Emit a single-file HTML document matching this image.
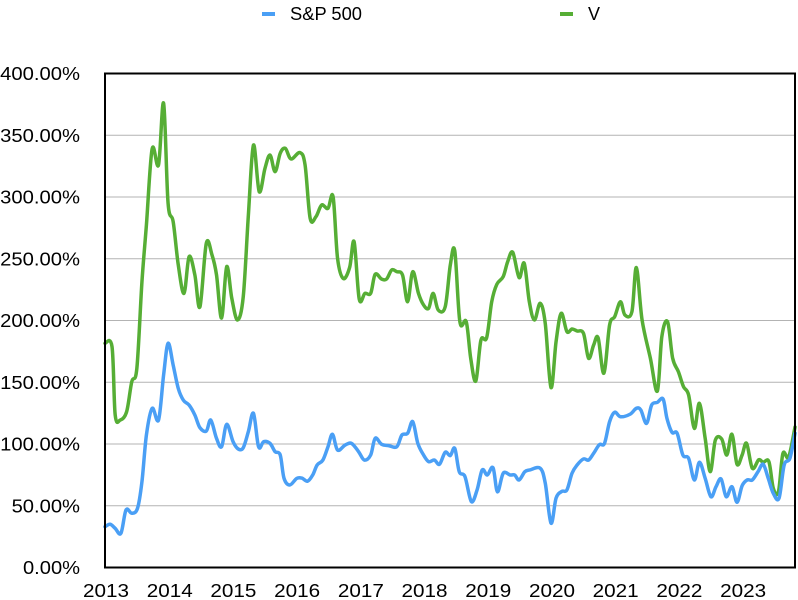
<!DOCTYPE html>
<html><head><meta charset="utf-8"><style>
html,body{margin:0;padding:0;background:#fff;}
svg{display:block;font-family:"Liberation Sans",Arial,sans-serif;}
</style></head><body>
<svg id="chart" width="798" height="600" viewBox="0 0 798 600" xmlns="http://www.w3.org/2000/svg">
<g id="legend">
 <g>
  <line x1="262" y1="14" x2="275" y2="14" stroke="#4a9ff5" stroke-width="4"/>
  <text x="290" y="20" font-size="18" fill="#000" textLength="72" lengthAdjust="spacingAndGlyphs">S&amp;P 500</text>
 </g>
 <g>
  <line x1="560" y1="14" x2="573" y2="14" stroke="#56ae35" stroke-width="4"/>
  <text x="588" y="20" font-size="18" fill="#000">V</text>
 </g>
</g>
<g id="grid"></g>
<g id="yaxis"></g>
<g id="xaxis"></g>
<g id="series"></g>
<rect x="105" y="73.5" width="690" height="494" fill="none" stroke="#000" stroke-width="2"/>
</svg>
<script>
const yTicks = [0,50,100,150,200,250,300,350,400];
const yTickLabels = ["0.00%","50.00%","100.00%","150.00%","200.00%","250.00%","300.00%","350.00%","400.00%"];
const xTicks = [2013,2014,2015,2016,2017,2018,2019,2020,2021,2022,2023];
const xTickLabels = ["2013","2014","2015","2016","2017","2018","2019","2020","2021","2022","2023"];

const vDates = [2013.00,2013.11,2013.16,2013.24,2013.34,2013.42,2013.50,2013.58,2013.65,2013.74,2013.84,2013.92,2013.99,2014.07,2014.15,2014.24,2014.32,2014.41,2014.49,2014.59,2014.68,2014.75,2014.83,2014.91,2014.99,2015.08,2015.17,2015.25,2015.33,2015.42,2015.51,2015.59,2015.67,2015.75,2015.83,2015.92,2016.06,2016.14,2016.22,2016.31,2016.40,2016.50,2016.58,2016.65,2016.74,2016.84,2016.91,2016.99,2017.08,2017.17,2017.24,2017.34,2017.42,2017.50,2017.58,2017.67,2017.75,2017.83,2017.92,2018.00,2018.08,2018.15,2018.23,2018.34,2018.42,2018.49,2018.57,2018.67,2018.74,2018.82,2018.90,2018.99,2019.07,2019.15,2019.25,2019.32,2019.40,2019.50,2019.58,2019.66,2019.74,2019.83,2019.91,2020.00,2020.08,2020.16,2020.25,2020.33,2020.41,2020.51,2020.59,2020.67,2020.74,2020.83,2020.92,2021.00,2021.09,2021.16,2021.27,2021.34,2021.43,2021.56,2021.67,2021.74,2021.83,2021.91,2022.00,2022.08,2022.16,2022.25,2022.33,2022.42,2022.50,2022.58,2022.68,2022.76,2022.84,2022.92,2023.00,2023.07,2023.16,2023.26,2023.33,2023.42,2023.49,2023.57,2023.64,2023.73,2023.83];
const vValues = [181.5,178.8,123.5,119.4,126.2,150.4,161.3,231.4,277.3,339,326,375.9,295,280,245,222,251.7,237,211,262.5,253,237,202,243.6,218,200.4,219.3,285,342,304.3,323,334,320.5,335.4,339.4,330.8,336,326,282.8,284,293.5,290.8,300.2,250.4,234,243,263.8,217.4,222,222,237.4,233.6,233.6,240.9,239.5,236.8,215.2,239.5,222,212.6,209.9,222,208.5,211.2,245,256.3,199,199,169.4,151,184,186,215.2,229.3,235.5,247.6,255.2,234.7,246.3,215.2,200.4,213.9,197.7,145.7,183,205.8,191,193.1,191.5,189.6,169.4,180.2,186,157.3,196.4,203.1,215.2,204.5,207.1,242.8,200.4,169.4,142.9,186.9,199,169.4,158.5,146.4,139.7,112.7,132.9,104.6,77.6,103.2,104,91.1,107.9,83.6,91.1,100.6,80.4,87.2,85.2,85.7,64,61.3,92.2,89.4,113.7];

const spDates = [2013.00,2013.08,2013.16,2013.25,2013.33,2013.42,2013.51,2013.58,2013.65,2013.74,2013.84,2013.92,2013.99,2014.07,2014.15,2014.23,2014.32,2014.41,2014.49,2014.59,2014.66,2014.75,2014.83,2014.91,2015.01,2015.09,2015.17,2015.25,2015.33,2015.41,2015.49,2015.59,2015.67,2015.75,2015.81,2015.90,2016.01,2016.09,2016.18,2016.26,2016.33,2016.42,2016.50,2016.57,2016.65,2016.77,2016.87,2016.98,2017.07,2017.17,2017.24,2017.34,2017.45,2017.58,2017.66,2017.75,2017.83,2017.91,2018.00,2018.08,2018.17,2018.25,2018.34,2018.42,2018.49,2018.56,2018.65,2018.75,2018.84,2018.92,2019.00,2019.09,2019.16,2019.25,2019.36,2019.43,2019.50,2019.59,2019.67,2019.83,2019.91,2020.00,2020.08,2020.17,2020.25,2020.33,2020.41,2020.51,2020.59,2020.67,2020.76,2020.84,2020.92,2021.00,2021.09,2021.24,2021.34,2021.41,2021.50,2021.58,2021.67,2021.76,2021.82,2021.90,2021.98,2022.07,2022.16,2022.25,2022.33,2022.42,2022.51,2022.59,2022.67,2022.75,2022.84,2022.92,2023.00,2023.08,2023.16,2023.25,2023.33,2023.41,2023.49,2023.58,2023.66,2023.75,2023.83];
const spValues = [33,35,31.7,27.7,46.6,43.9,47.9,69.5,107.3,128.9,119.4,155.9,181.5,163.9,145,135.5,131.5,123.5,113.2,110.5,119.4,104.6,97.8,115.9,101.9,96,97,110,124.9,97.8,101.9,100.5,93.8,91.1,72.2,66.8,72.2,72.4,69.9,74.9,83,87,97.8,107.9,95.1,99.2,100.5,93.8,87,91.1,104.6,99.8,98.7,97.8,107.3,108.7,118.1,100.5,91.1,85.7,87,83.6,93.3,90.6,96.5,77.6,73.6,53.4,62.8,79,74.9,80.8,61.3,76.3,74.9,74.9,70.9,77.6,79,80.4,68.3,35.9,56.2,61.6,62.8,76.3,83,87.9,87,92.5,99.5,100.5,118.1,125.7,122.1,124.1,128.9,127.5,116.7,131.5,133.7,136.4,120.8,109.4,108.7,91.1,88.4,70.9,85.2,72.2,57.3,65.4,71.7,57.3,65.4,52.8,66.2,70.9,70.9,77.6,83.6,72.2,60,56.2,83,88.4,108.7];

const X0=105, X1=795, D0=2013, D1=2023.83;
const Y0=567.5, Y1=73.5, V0=0, V1=400;
function xScale(d){return X0+(d-D0)/(D1-D0)*(X1-X0);}
function yScale(v){return Y0-(v-V0)/(V1-V0)*(Y0-Y1);}
const NS="http://www.w3.org/2000/svg";
function mk(tag,attrs,parent){const e=document.createElementNS(NS,tag);for(const k in attrs)e.setAttribute(k,attrs[k]);parent.appendChild(e);return e;}

const grid=document.getElementById('grid'), yaxis=document.getElementById('yaxis'), xaxis=document.getElementById('xaxis'), series=document.getElementById('series');
yTicks.forEach((t,i)=>{
  const y=yScale(t);
  if(t>0&&t<400){
    const g=mk('line',{x1:X0,x2:X1,y1:y,y2:y,stroke:'#b3b3b3','stroke-width':1},grid);
    
    
  }
  const lab=yTickLabels[i];
  const w=lab.length*11.4;
  const tx=mk('text',{x:80-w,y:y+6.5,'font-size':18,fill:'#000',textLength:w,lengthAdjust:'spacingAndGlyphs'},yaxis);
  tx.textContent=lab;
  
  
});
xTicks.forEach((t,i)=>{
  const cx=xScale(t)+1;
  const tx=mk('text',{x:cx-23,y:597,'font-size':18,fill:'#000',textLength:46,lengthAdjust:'spacingAndGlyphs'},xaxis);
  tx.textContent=xTickLabels[i];
  
  
});
function pathFor(dates,vals){
  const p=dates.map((d,i)=>[xScale(d),yScale(vals[i])]);
  let s='M'+p[0][0]+','+p[0][1];
  for(let i=0;i<p.length-1;i++){
    const a=p[Math.max(0,i-1)],b=p[i],c=p[i+1],d=p[Math.min(p.length-1,i+2)];
    const c1=[b[0]+(c[0]-a[0])/6,b[1]+(c[1]-a[1])/6];
    const c2=[c[0]-(d[0]-b[0])/6,c[1]-(d[1]-b[1])/6];
    s+=' C'+c1[0].toFixed(2)+','+c1[1].toFixed(2)+' '+c2[0].toFixed(2)+','+c2[1].toFixed(2)+' '+c[0].toFixed(2)+','+c[1].toFixed(2);
  }
  return s;
}
const vLine=mk('path',{d:pathFor(vDates,vValues),fill:'none',stroke:'#56ae35','stroke-width':3.5,'stroke-linejoin':'round','stroke-linecap':'round'},series);


const spLine=mk('path',{d:pathFor(spDates,spValues),fill:'none',stroke:'#4a9ff5','stroke-width':3.5,'stroke-linejoin':'round','stroke-linecap':'round'},series);


</script>
</body></html>
